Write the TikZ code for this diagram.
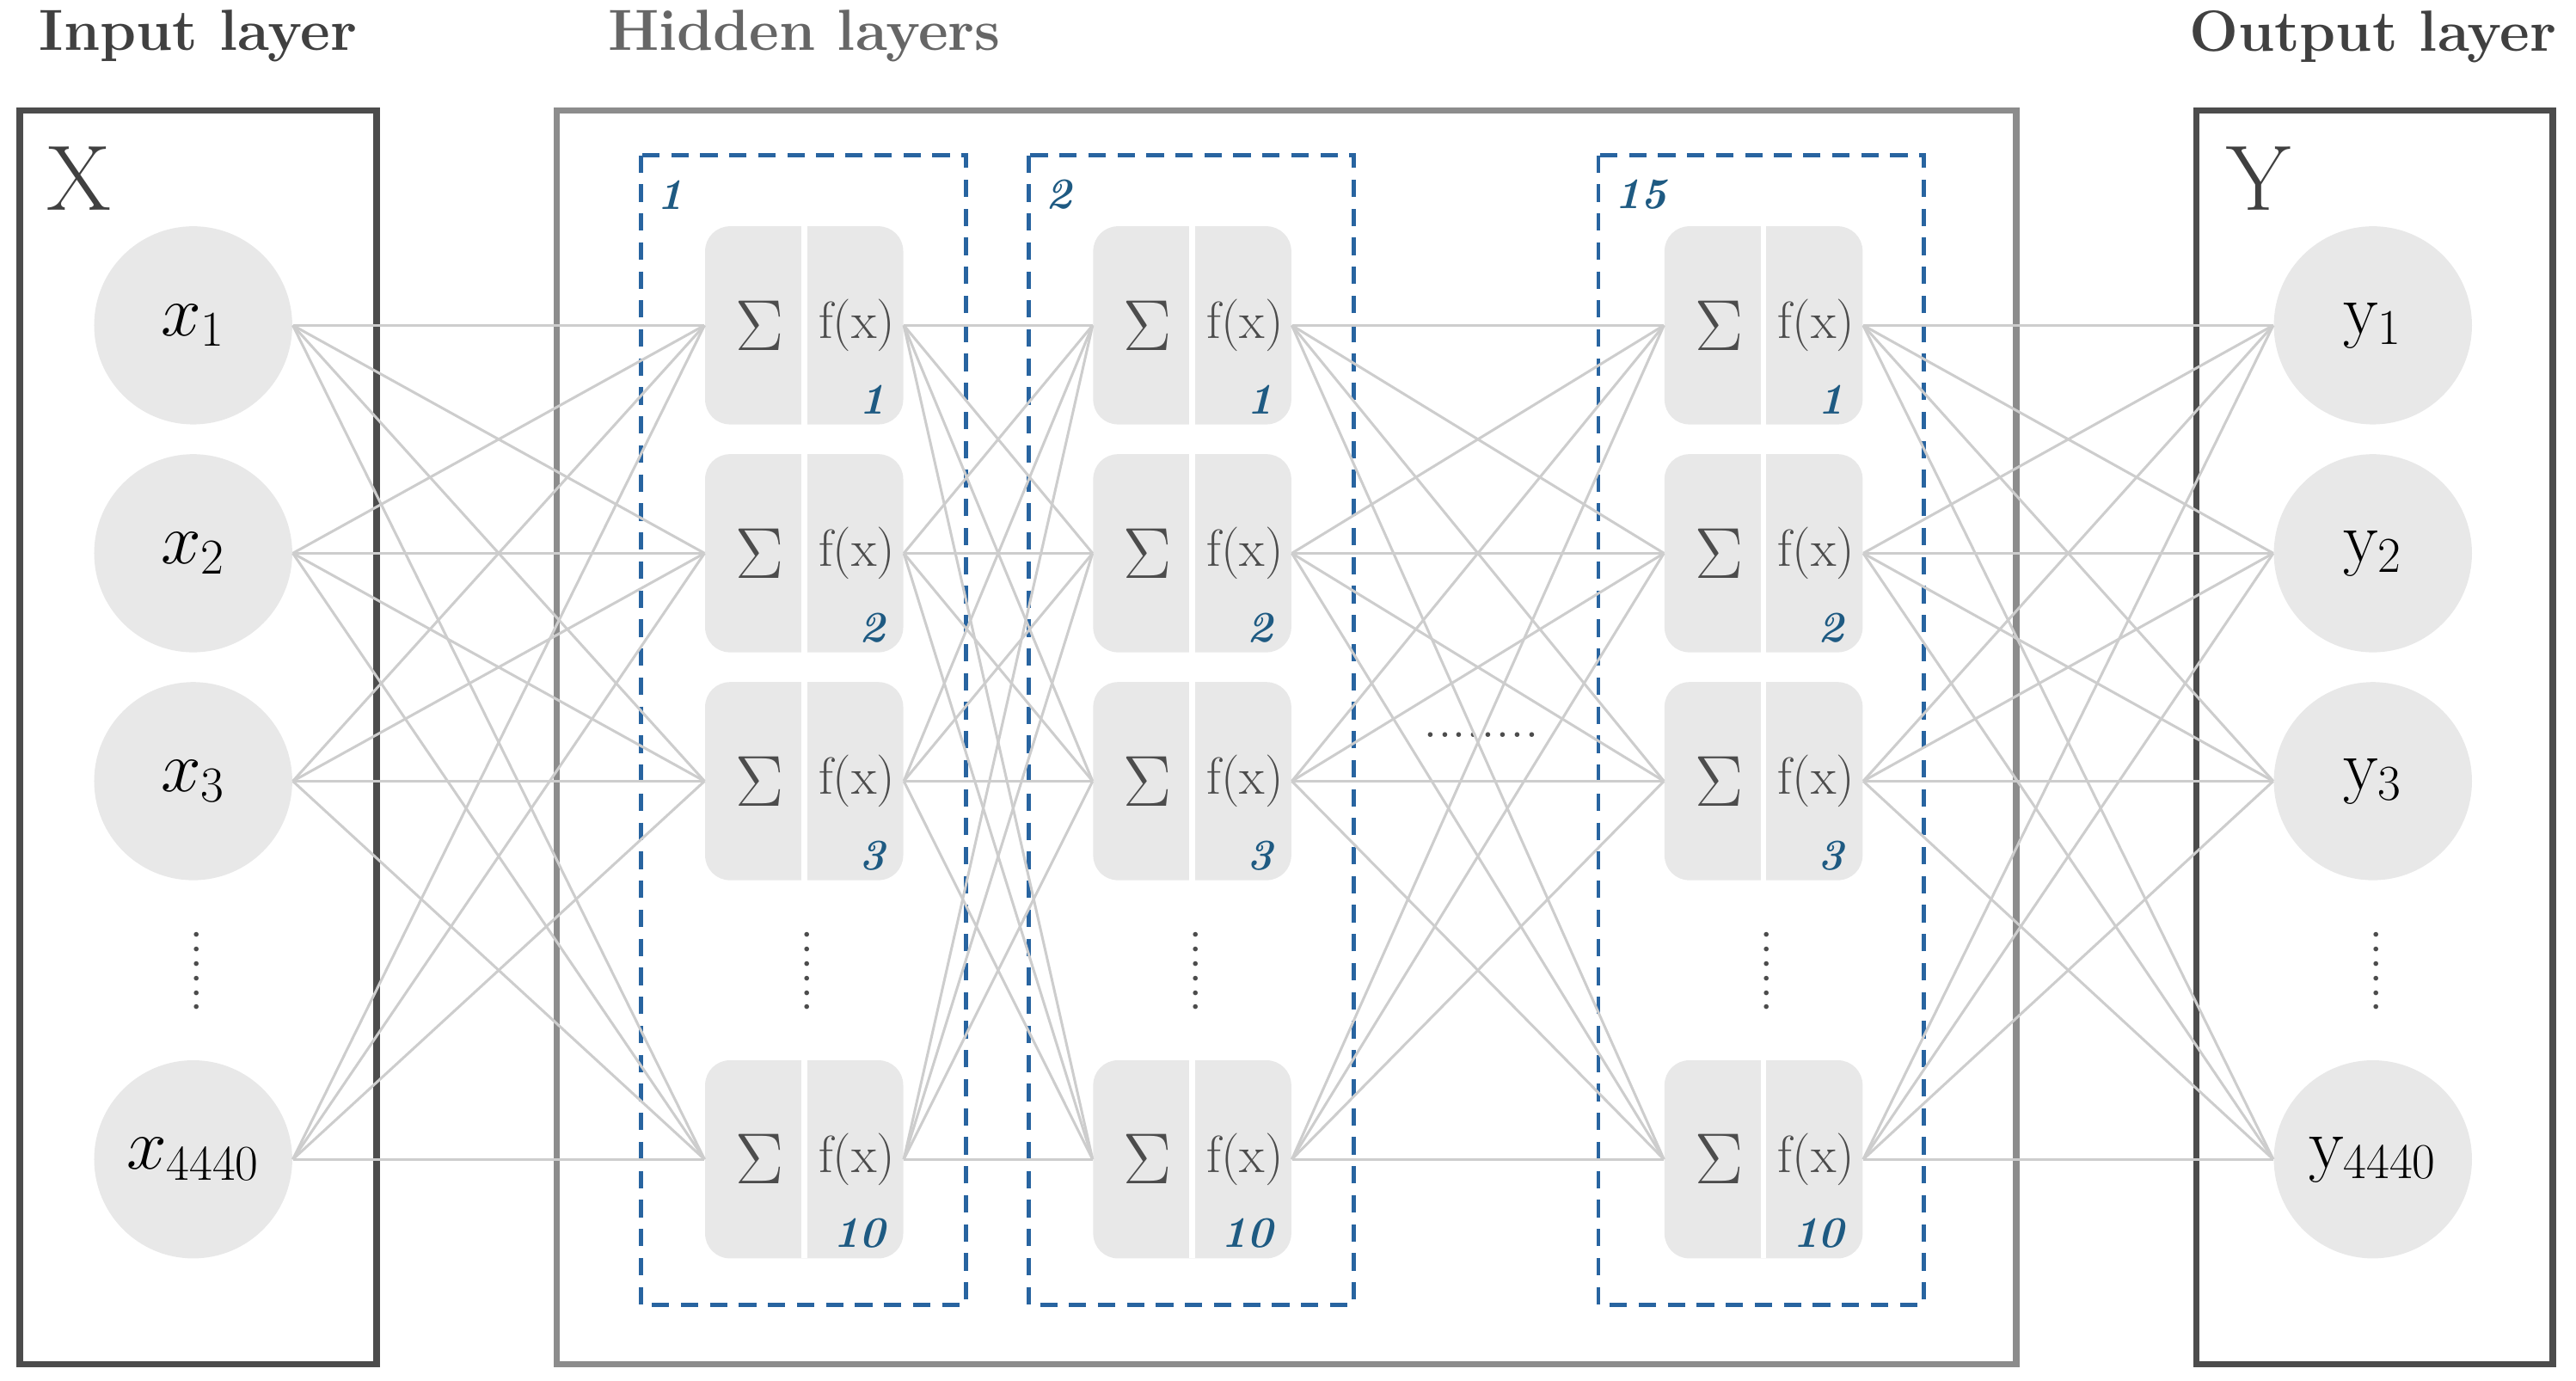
\documentclass[tikz,border=0pt]{standalone}
\usepackage{amsmath}
\usepackage{tikz}
\usetikzlibrary{positioning}
\definecolor{nodegray}{RGB}{232,232,232}
\definecolor{linkgray}{RGB}{205,205,205}
\definecolor{dashblue}{RGB}{40,100,160}
\definecolor{idxblue}{RGB}{30,90,130}
\tikzset{
  unit/.style={fill=nodegray,shape=circle,minimum size=2.4cm,inner sep=0pt,font=\fontsize{27}{30}\selectfont},
  neuron/.style={fill=nodegray,rounded corners=0.3cm,minimum width=2.4cm,minimum height=2.4cm,inner sep=0pt},
  link/.style={linkgray,line width=0.9pt},
  title/.style={font=\fontsize{20}{24}\selectfont\bfseries},
  idx/.style={idxblue,font=\fontsize{15}{18}\selectfont\bfseries\itshape}
}
\begin{document}
\begin{tikzpicture}[x=0.02cm,y=-0.02cm]
    \useasboundingbox (0,0) rectangle (1560,836);
    %%%%% THE BOXES
    \node[title,text=black!75] (TIN) at (120,22) {Input layer};
    \node[title,text=black!60] (THID) at (487,22) {Hidden layers};
    \node[title,text=black!75] (TOUT) at (1437,22) {Output layer};
    \draw[black!70,line width=2.2pt] (12,67) rectangle (228,826);
    \draw[black!45,line width=2.2pt] (337,67) rectangle (1221,826);
    \draw[black!70,line width=2.2pt] (1330,67) rectangle (1546,826);
    \node[font=\fontsize{32}{34}\selectfont,text=black!75] (LX) at (48,108) {X};
    \node[font=\fontsize{32}{34}\selectfont,text=black!75] (LY) at (1368,108) {Y};
    \foreach \gx/\gl in {388/1,623/2,968/15}{
      \draw[dashblue,line width=1.4pt,dash pattern=on 6pt off 4pt] (\gx,94) rectangle ++(197,696);
      \node[idx,anchor=west] at (\gx+4,118) {\gl};
    }
    %%%%% THE NODES
    \foreach \r/\y/\s in {1/197/1,2/335/2,3/473/3,4/702/4440}{
      \node[unit] (in\r) at (117,\y) {$x_{\s}$};
      \node[unit] (out\r) at (1437,\y) {$\mathrm{y}_{\s}$};
    }
    \foreach \g/\cx in {1/487,2/722,3/1068}{
      \foreach \r/\y/\s in {1/197/1,2/335/2,3/473/3,4/702/10}{
        \node[neuron] (h\g-\r) at (\cx,\y) {};
        \draw[white,line width=2pt] (\cx,\y-60) -- (\cx,\y+60);
        \node[font=\fontsize{25}{28}\selectfont,text=black!70] at (\cx-27,\y) {$\Sigma$};
        \node[font=\fontsize{18}{20}\selectfont,text=black!70] at (\cx+32,\y) {f(x)};
        \node[idx,anchor=east] at (\cx+55,\y+45) {\s};
      }
      \node[font=\fontsize{20}{20}\selectfont,text=black!70,rotate=90] at (\cx+2,588) {......};
    }
    \node[font=\fontsize{20}{20}\selectfont,text=black!70,rotate=90] at (119,588) {......};
    \node[font=\fontsize{20}{20}\selectfont,text=black!70,rotate=90] at (1439,588) {......};
    \node[font=\fontsize{20}{20}\selectfont,text=black!70] (HDOTS) at (897,445) {........};
    %%%% LINKS BETWEEN THE LAYERS
    \foreach \a in {1,...,4}{
      \foreach \b in {1,...,4}{
        \draw[link] (in\a.east) -- (h1-\b.west);
        \draw[link] (h1-\a.east) -- (h2-\b.west);
        \draw[link] (h2-\a.east) -- (h3-\b.west);
        \draw[link] (h3-\a.east) -- (out\b.west);
      }
    }
  \end{tikzpicture}
\end{document}
